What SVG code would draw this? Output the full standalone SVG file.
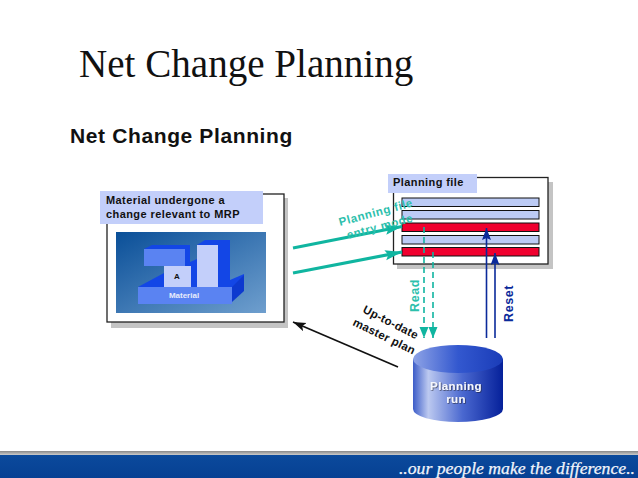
<svg xmlns="http://www.w3.org/2000/svg" width="638" height="478" viewBox="0 0 638 478">
<style>
.s{font-family:"Liberation Sans",Arial,sans-serif;font-weight:bold}
.lab{font-size:11px;letter-spacing:.42px;fill:#111}
.box{fill:#fff;stroke:#222;stroke-width:1.3}
.shadow{fill:#c4c4c4}
.tag{fill:#c3cffa}
.rowb{fill:#bccbf5;stroke:#111;stroke-width:1}
.rowr{fill:#f0002e;stroke:#111;stroke-width:1}
.teal{stroke:#10b5a0;fill:none}
.navy{stroke:#0a2a9a;fill:none;stroke-width:1.6}
.cyltext{font-size:11.5px;letter-spacing:.4px;fill:#f4f6fe;text-anchor:middle}
</style>
<defs>
<linearGradient id="band" x1="0" y1="0" x2="0" y2="1"><stop offset="0" stop-color="#0b4a9c"/><stop offset="1" stop-color="#064093"/></linearGradient>
<linearGradient id="top" x1="0" y1="0" x2="0" y2="1"><stop offset="0" stop-color="#888"/><stop offset="1" stop-color="#ddd"/></linearGradient>
<linearGradient id="panel" x1="0" y1="0" x2="1" y2="1"><stop offset="0" stop-color="#0a4f98"/><stop offset="1" stop-color="#6f9fce"/></linearGradient>
<linearGradient id="cyl" x1="0" y1="0" x2="1" y2="0"><stop offset="0" stop-color="#3c5cc8"/><stop offset=".17" stop-color="#bcc9f0"/><stop offset=".55" stop-color="#4a68d0"/><stop offset="1" stop-color="#05209a"/></linearGradient>
<linearGradient id="cyltop" x1="0" y1="0" x2="1" y2="0"><stop offset="0" stop-color="#8ea3e6"/><stop offset=".5" stop-color="#3358cf"/><stop offset="1" stop-color="#1a3cb8"/></linearGradient>
<filter id="ds" x="-20%" y="-30%" width="140%" height="160%"><feDropShadow dx=".7" dy=".7" stdDeviation=".4" flood-color="#223" flood-opacity=".8"/></filter>
<marker id="ht" markerUnits="userSpaceOnUse" markerWidth="20" markerHeight="12" refX="17" refY="5" orient="auto"><path d="M0 0L17 5L0 10L3 5Z" fill="#10b5a0"/></marker>
<marker id="hd" markerUnits="userSpaceOnUse" markerWidth="12" markerHeight="14" refX="11" refY="4.500" orient="auto"><path d="M0 0L11 4.500L0 9Z" fill="#10b5a0"/></marker>
<marker id="hn" markerUnits="userSpaceOnUse" markerWidth="14" markerHeight="10" refX="12" refY="4.500" orient="auto"><path d="M0 0L12 4.500L0 9L2 4.500Z" fill="#0a2a9a"/></marker>
<marker id="hk" markerUnits="userSpaceOnUse" markerWidth="14" markerHeight="10" refX="13" refY="4.500" orient="auto"><path d="M0 0L13 4.500L0 9L3 4.500Z" fill="#111"/></marker>
</defs>
<rect width="638" height="478" fill="#fff"/>
<g id="footer">
<rect x="0" y="451" width="638" height="5" fill="url(#top)"/>
<rect x="0" y="455" width="638" height="23" fill="url(#band)"/>
<text x="635" y="474" text-anchor="end" font-family="Liberation Serif,serif" font-style="italic" font-size="17.700" stroke="#f2f5fb" stroke-width=".25" fill="#f2f5fb">..our people make the difference..</text>
</g>
<text x="79" y="77" font-family="Liberation Serif,serif" font-size="39.100" fill="#111">Net Change Planning</text>
<text x="70" y="143" class="s" font-size="21" letter-spacing=".62" fill="#111">Net Change Planning</text>
<g id="material">
<rect x="111" y="198" width="177" height="130" class="shadow"/>
<rect x="107" y="194" width="177" height="128" class="box"/>
<rect x="100" y="191" width="163" height="33" class="tag"/>
<text x="106" y="204" class="s lab">Material undergone a</text>
<text x="106" y="218" class="s lab">change relevant to MRP</text>
<rect x="116" y="232" width="150" height="81" fill="url(#panel)"/>
<path d="M144 249L152 245H190V266H144Z" fill="#1346e6"/>
<path d="M190 262L197 259V287H190Z" fill="#1346e6"/>
<path d="M197 245L205 240H230V285H197Z" fill="#1346e6"/>
<path d="M138 287L164 273V287ZM218 287V280H230L244 274V287Z" fill="#1346e6"/>
<path d="M232 287L244 275V291L232 302Z" fill="#0d39cf"/>
<rect x="144" y="249" width="41" height="17" fill="#5a83f2"/>
<rect x="164" y="266" width="27" height="21" fill="#c3cffa"/>
<rect x="197" y="245" width="21" height="42" fill="#c3cffa"/>
<rect x="138" y="287" width="94" height="17" fill="#5a83f2"/>
<text x="177" y="279" text-anchor="middle" class="s" font-size="8" fill="#111">A</text>
<text x="184" y="298" text-anchor="middle" class="s" font-size="8" fill="#e8ecfb">Material</text>
</g>
<g id="planning-file">
<rect x="397" y="182" width="156" height="87" class="shadow"/>
<rect x="393.500" y="177.500" width="154.500" height="86.500" class="box"/>
<rect x="388" y="174" width="89" height="19" class="tag"/>
<text x="393" y="186" class="s lab">Planning file</text>
<rect x="402" y="198" width="137" height="8.500" class="rowb"/>
<rect x="402" y="210.500" width="137" height="8.500" class="rowb"/>
<rect x="402" y="223" width="137" height="8.500" class="rowr"/>
<rect x="402" y="235.500" width="137" height="8.500" class="rowb"/>
<rect x="402" y="247.500" width="137" height="8.500" class="rowr"/>
</g>
<g id="planning-run">
<path d="M413 359V409A45 13 0 0 0 503 409V359Z" fill="url(#cyl)"/>
<ellipse cx="458" cy="359" rx="45" ry="14" fill="url(#cyltop)"/>
<text x="456" y="390" class="s cyltext" filter="url(#ds)">Planning</text>
<text x="456" y="403" class="s cyltext" filter="url(#ds)">run</text>
</g>
<g id="connectors">
<path d="M293 248L402 226.500" class="teal" stroke-width="3.200" marker-end="url(#ht)"/>
<path d="M293 273L402 252" class="teal" stroke-width="3.200" marker-end="url(#ht)"/>
<path d="M424 227V338" class="teal" stroke-width="1.600" stroke-dasharray="6 4" marker-end="url(#hd)"/>
<path d="M433 252V338" class="teal" stroke-width="1.600" stroke-dasharray="6 4" marker-end="url(#hd)"/>
<path d="M486.500 338V228" class="navy" marker-end="url(#hn)"/>
<path d="M495 338V253" class="navy" marker-end="url(#hn)"/>
<path d="M398 367L293 322" stroke="#111" stroke-width="1.700" fill="none" marker-end="url(#hk)"/>
</g>
<g id="labels" class="s" font-size="11.500" letter-spacing=".6">
<text transform="translate(340 226) rotate(-15)" fill="#2cc0ac">Planning file</text>
<text transform="translate(348 239) rotate(-15)" fill="#2cc0ac">entry mode</text>
<text transform="translate(419 312) rotate(-90)" font-size="12.500" fill="#2cc0ac">Read</text>
<text transform="translate(513 322) rotate(-90)" font-size="12.500" fill="#0a2a9a">Reset</text>
<text transform="translate(362 312) rotate(27)" letter-spacing=".3" fill="#111">Up-to-date</text>
<text transform="translate(352 325) rotate(26)" letter-spacing=".3" fill="#111">master plan</text>
</g>
</svg>
